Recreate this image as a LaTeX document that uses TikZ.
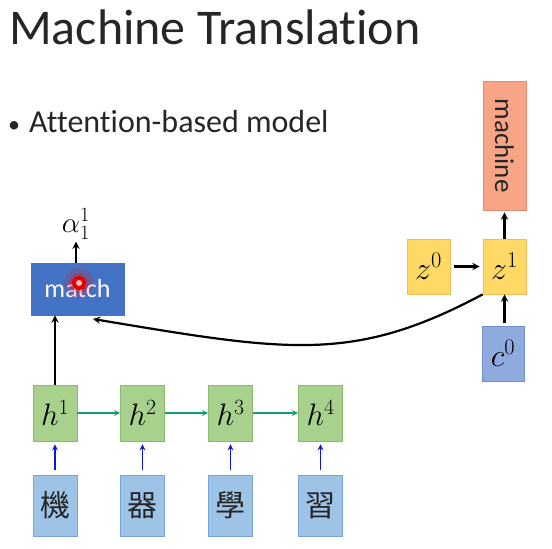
\RequirePackage{fix-cm}
\documentclass[tikz,border=0pt]{standalone}
\usepackage{fontspec}
\setmainfont{Carlito}[Ligatures=NoCommon]
\newfontfamily\cjk{Noto Sans CJK TC}
\usetikzlibrary{positioning}
\definecolor{textgray}{RGB}{38,38,38}
\definecolor{matchblue}{RGB}{68,114,196}
\definecolor{hfill}{RGB}{169,209,142}
\definecolor{hline}{RGB}{140,185,110}
\definecolor{wfill}{RGB}{157,195,230}
\definecolor{wline}{RGB}{120,165,215}
\definecolor{zfill}{RGB}{255,217,102}
\definecolor{zline}{RGB}{244,185,90}
\definecolor{mfill}{RGB}{248,165,135}
\definecolor{mline}{RGB}{230,140,110}
\definecolor{cfill}{RGB}{143,170,220}
\definecolor{cline}{RGB}{110,140,205}
\definecolor{teal}{RGB}{20,155,120}
\definecolor{inblue}{RGB}{10,20,230}
\tikzset{
  box/.style={draw, line width=0.8pt, inner sep=0pt},
  hbox/.style={box, draw=hline, fill=hfill, minimum width=44pt, minimum height=56pt, font=\fontsize{31}{31}\selectfont},
  wbox/.style={box, draw=wline, fill=wfill, minimum width=44pt, minimum height=61pt, font=\cjk\fontsize{30}{30}\selectfont, text=textgray},
  zbox/.style={box, draw=zline, fill=zfill, minimum width=43pt, minimum height=55pt, font=\fontsize{32}{32}\selectfont},
  blackarr/.style={-stealth, line width=2.2pt, black},
  harr/.style={-stealth, line width=1.6pt, teal},
  inarr/.style={-stealth, line width=1.6pt, inblue, shorten <=5pt, shorten >=3pt}
}
\begin{document}
\begin{tikzpicture}[x=1pt, y=-1pt]
  \useasboundingbox (0,0) rectangle (552,549);
  % title and bullet
  \node[anchor=base west, inner sep=0pt, text=textgray, font=\fontsize{50}{52}\selectfont] (title) at (9,44) {Machine Translation};
  \node[anchor=base west, inner sep=0pt, text=textgray, font=\fontsize{32}{34}\selectfont] (bullet) at (8,132) {{\fontsize{24}{24}\selectfont\textbullet}\hspace{9pt}Attention-based model};
  % encoder
  \node[hbox] (h1) at (55,413) {$h^1$};
  \node[hbox] (h2) at (142.5,413) {$h^2$};
  \node[hbox] (h3) at (230.5,413) {$h^3$};
  \node[hbox] (h4) at (320.5,413) {$h^4$};
  \node[wbox] (w1) at (55,505.5) {機};
  \node[wbox] (w2) at (142.5,505.5) {器};
  \node[wbox] (w3) at (230.5,505.5) {學};
  \node[wbox] (w4) at (320.5,505.5) {習};
  \draw[harr] (h1) -- (h2);
  \draw[harr] (h2) -- (h3);
  \draw[harr] (h3) -- (h4);
  \draw[inarr] (w1) -- (h1);
  \draw[inarr] (w2) -- (h2);
  \draw[inarr] (w3) -- (h3);
  \draw[inarr] (w4) -- (h4);
  % match
  \node[box, draw=matchblue, fill=matchblue, minimum width=93pt, minimum height=52pt, text=white, font=\fontsize{26}{26}\selectfont] (match) at (77.5,289) {match};
  \node[font=\fontsize{29}{29}\selectfont, inner sep=0pt] (alpha) at (76,224) {$\alpha_1^1$};
  \draw[blackarr] (h1.north) -- (h1.north |- match.south);
  \draw[blackarr, shorten >=2pt] (match.north -| alpha) -- (alpha.south);
  % pointer
  \fill[red, opacity=0.15] (79,283) circle (15);
  \fill[red, opacity=0.25] (79,283) circle (10);
  \fill[red!90!black] (79,283) circle (7);
  \fill[red!25] (79,283) circle (3);
  % decoder
  \node[zbox] (z0) at (428.5,266.5) {$z^0$};
  \node[zbox] (z1) at (504.5,266.5) {$z^1$};
  \node[box, draw=cline, fill=cfill, minimum width=42pt, minimum height=55pt, font=\fontsize{32}{32}\selectfont] (c0) at (503,353.5) {$c^0$};
  \node[box, draw=mline, fill=mfill, minimum width=129pt, minimum height=43pt, rotate=-90, text=textgray, font=\fontsize{27}{27}\selectfont] (machine) at (504.5,145.5) {machine};
  \coordinate (matchin) at (93,319);
  \draw[blackarr, shorten <=4pt, shorten >=3pt] (z0) -- (z1);
  \draw[blackarr, shorten >=2pt] (z1.north) -- (z1.north |- machine.east);
  \draw[blackarr, shorten <=3pt] (c0.north -| z1) -- (z1.south);
  \draw[blackarr] (z1.south west) .. controls (353,363.5) and (288,351.5) .. (matchin);
\end{tikzpicture}
\end{document}
